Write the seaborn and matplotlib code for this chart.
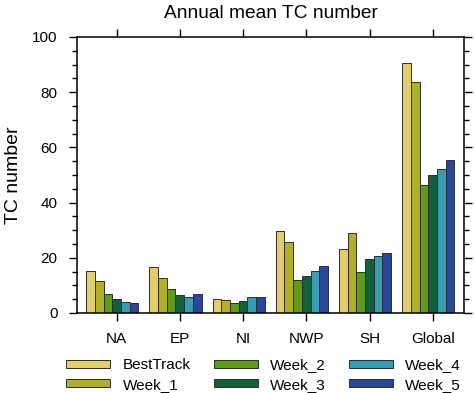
import numpy as np
import pandas as pd
import matplotlib
matplotlib.use('Agg')
import matplotlib.pyplot as plt
from matplotlib.ticker import MultipleLocator
import seaborn as sns

# dane
regions = ['NA', 'EP', 'NI', 'NWP', 'SH', 'Global']
series = ['BestTrack', 'Week_1', 'Week_2', 'Week_3', 'Week_4', 'Week_5']
best_track = [15.3, 16.6, 5.2, 29.6, 23.3, 90.5]
week_1 = [11.5, 12.6, 4.7, 25.6, 28.9, 83.7]
week_2 = [6.9, 8.8, 3.5, 11.8, 14.7, 46.3]
week_3 = [5.1, 6.5, 4.5, 13.4, 19.7, 50.1]
week_4 = [4.0, 5.8, 5.9, 15.1, 20.8, 52.3]
week_5 = [3.5, 6.7, 5.7, 17.0, 21.7, 55.6]
colors = ['#E2CE6C', '#AFAF29', '#5F9A1C', '#10603A', '#3A9CB4', '#2A479B']

values = [best_track, week_1, week_2, week_3, week_4, week_5]
df = pd.DataFrame({
    'region': regions * len(series),
    'series': np.repeat(series, len(regions)),
    'count': np.concatenate(values),
})

sns.set_theme(style='ticks')
plt.rcParams['font.family'] = ['Liberation Sans', 'DejaVu Sans']
for k in ['text.color', 'axes.labelcolor', 'xtick.color', 'ytick.color']:
    plt.rcParams[k] = 'black'

fig = plt.figure(figsize=(4.74, 3.93), dpi=100)
ax = fig.add_axes([0.162, 0.2036, 0.8175, 0.7023])

sns.barplot(data=df, x='region', y='count', hue='series', palette=colors,
            saturation=1, width=0.826, edgecolor='#2e2e2e', linewidth=0.7,
            ax=ax, legend=False)

ax.set_xlim(-0.562, 5.57)
ax.set_ylim(0, 100)
ax.set_xticks(np.arange(len(regions)) + 0.071, regions)
ax.yaxis.set_major_locator(MultipleLocator(20))
ax.yaxis.set_minor_locator(MultipleLocator(5))

for s in ax.spines.values():
    s.set_linewidth(1.1)
    s.set_color('black')
ax.tick_params(which='both', direction='out', top=True, right=True,
               width=1.0, color='black', labelsize=11)
ax.tick_params(which='major', length=5.8, pad=8)
ax.tick_params(which='minor', length=3.6)

ax.set_xlabel('')
ax.set_ylabel('TC number', fontsize=14, labelpad=7)
ax.set_title('Annual mean TC number', fontsize=13.8, pad=14)

handles = [plt.Rectangle((0, 0), 1, 1, facecolor=c, edgecolor='#2e2e2e',
                         linewidth=0.7) for c in colors]
fig.legend(handles, series, loc='center', bbox_to_anchor=(0.556, 0.046),
           ncol=3, frameon=False, fontsize=11, handlelength=2.9,
           handleheight=0.45, handletextpad=0.8, columnspacing=1.5,
           labelspacing=0.35, borderpad=0)

fig.savefig('out.png', dpi=100)
